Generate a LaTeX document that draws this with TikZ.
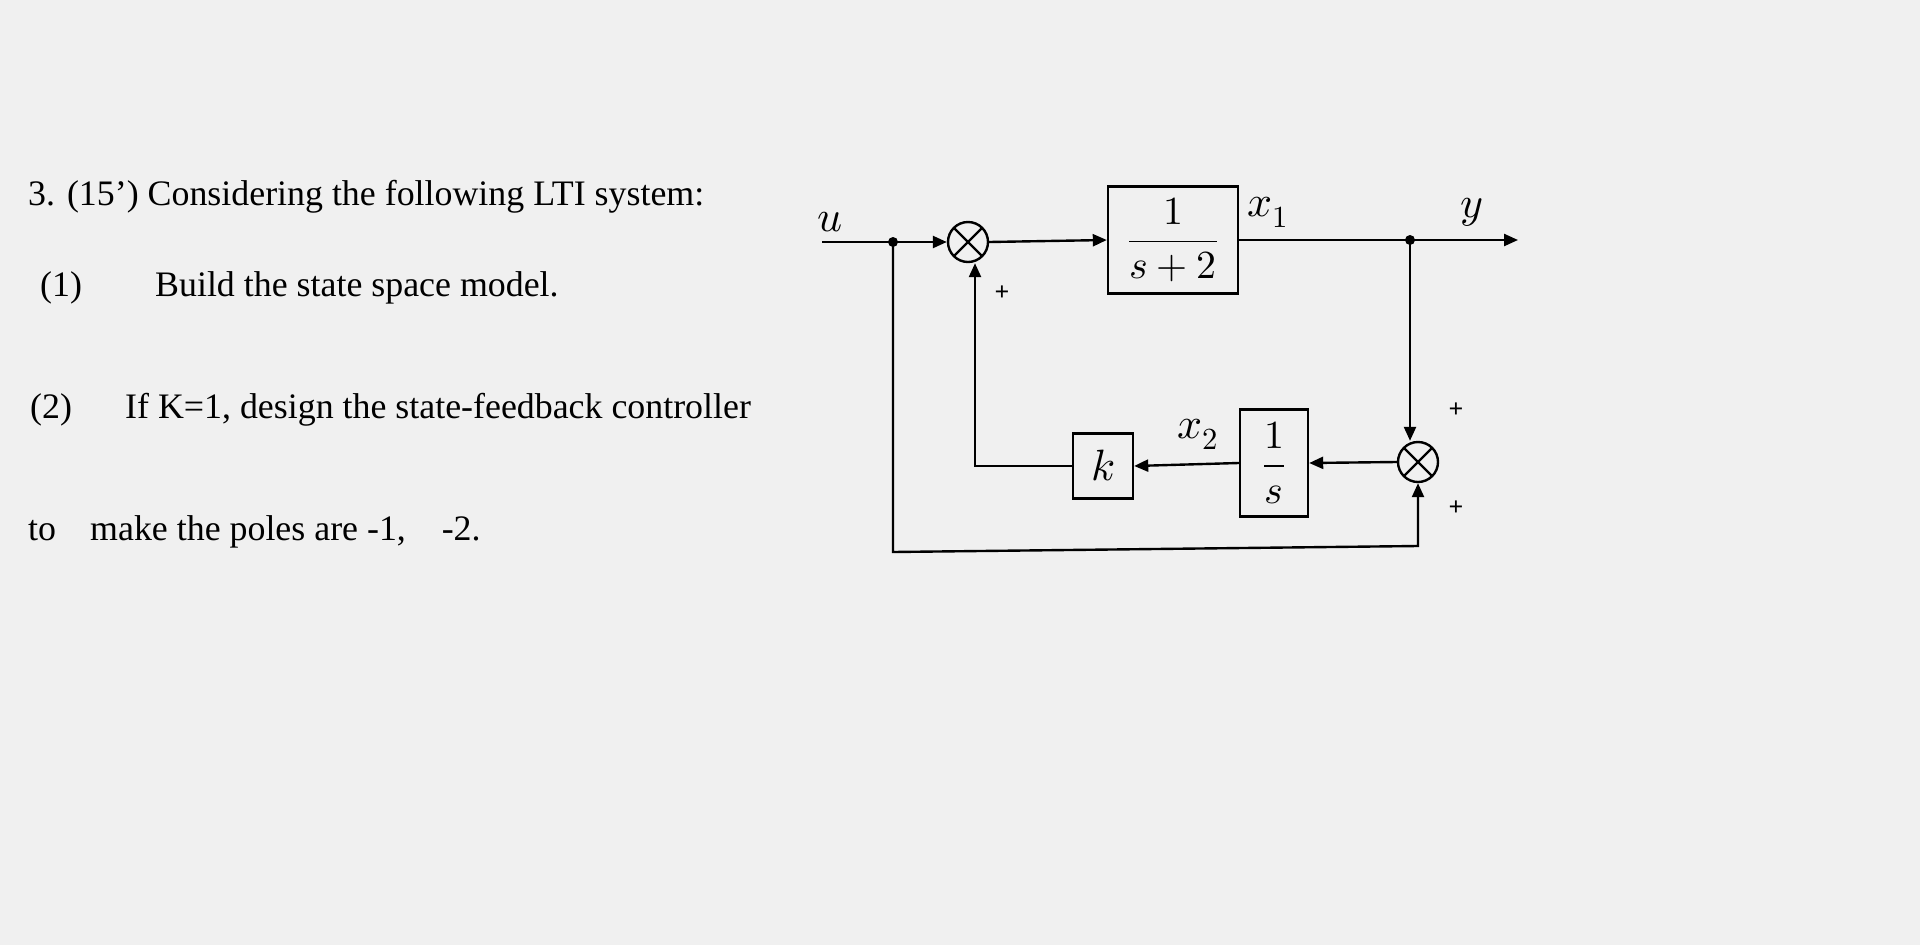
\documentclass[tikz,border=0pt]{standalone}
\usepackage{unicode-math}
\setmainfont{Liberation Serif}
\setmathfont{Latin Modern Math}
\usetikzlibrary{arrows.meta}
\begin{document}
\begin{tikzpicture}[x=1bp,y=-1bp,
  txt/.style={anchor=base west,font=\fontsize{36}{40}\selectfont,inner sep=0},
  lbl/.style={font=\fontsize{44}{48}\selectfont},
  blk/.style={draw,line width=2.4pt,inner sep=0},
  sumj/.style={draw,line width=2.4pt,circle,minimum size=40bp,inner sep=0,path picture={\draw[line width=2.2pt] (path picture bounding box.south west)--(path picture bounding box.north east) (path picture bounding box.north west)--(path picture bounding box.south east);}},
  arr/.style={line width=2.4pt,-{Triangle[length=14bp,width=12bp]}},
  pls/.style={font=\fontsize{26}{28}\selectfont\bfseries}]
\fill[gray!12] (0,0) rectangle (1920,945);
\useasboundingbox (0,0) rectangle (1920,945);
\node[txt] (t1) at (28,205) {3. (15’) Considering the following LTI system:};
\node[txt] (t2a) at (40,296) {(1)};
\node[txt] (t2b) at (155,296) {Build the state space model.};
\node[txt] (t3a) at (30,418) {(2)};
\node[txt] (t3b) at (125,418) {If K=1, design the state-feedback controller};
\node[txt] (t4a) at (28,540) {to};
\node[txt] (t4b) at (90,540) {make the poles are -1,\quad -2.};
% diagram
\node[sumj] (s1) at (968,242) {};
\node[sumj] (s2) at (1418,462) {};
\node[blk,minimum width=130bp,minimum height=107bp] (b1) at (1173,240) {\fontsize{40}{44}\selectfont$\displaystyle\frac{1}{s+2}$};
\node[blk,minimum width=68bp,minimum height=107bp] (b2) at (1274,463) {\fontsize{40}{44}\selectfont$\displaystyle\frac{1}{s}$};
\node[blk,minimum width=60bp,minimum height=65bp] (bk) at (1103,466) {\fontsize{44}{48}\selectfont$k$};
\coordinate (uin) at (822,242);
\coordinate (d1) at (893,242);
\coordinate (d2) at (1410,240);
\coordinate (yout) at (1518,240);
\coordinate (c1) at (975,466);
\coordinate (c2) at (893,552);
\coordinate (c3) at (1418,546);
\draw[arr] (uin) -- (s1.west);
\fill (d1) circle (5bp);
\draw[arr] (s1.east) -- (b1.west);
\draw[arr] (b1.east |- d2) -- (yout);
\fill (d2) circle (5bp);
\draw[arr] (d2) -- (d2 |- s2.north);
\draw[arr] (s2.west) -- (b2.east);
\draw[arr] (b2.west) -- (bk.east);
\draw[arr] (bk.west) -- (c1) -- (s1.south -| c1);
\draw[arr] (d1) -- (c2) -- (c3) -- (s2.south);
\node[lbl] (lu) at (830,222) {$u$};
\node[lbl] (lx1) at (1268,212) {$x_1$};
\node[lbl] (ly) at (1472,212) {$y$};
\node[lbl] (lx2) at (1198,434) {$x_2$};
\node[pls] (p1) at (1002,293) {+};
\node[pls] (p2) at (1456,410) {+};
\node[pls] (p3) at (1456,508) {+};
\end{tikzpicture}
\end{document}
